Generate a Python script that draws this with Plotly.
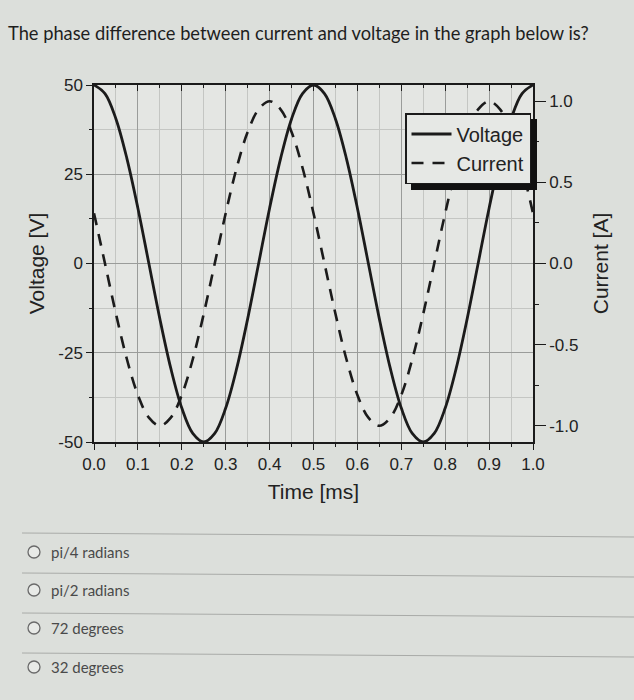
import plotly.graph_objects as go

# values (time in ms)
time_ms = [0.0, 0.025, 0.05, 0.075, 0.1, 0.125, 0.15, 0.175, 0.2, 0.225,
           0.25, 0.275, 0.3, 0.325, 0.35, 0.375, 0.4, 0.425, 0.45, 0.475,
           0.5, 0.525, 0.55, 0.575, 0.6, 0.625, 0.65, 0.675, 0.7, 0.725,
           0.75, 0.775, 0.8, 0.825, 0.85, 0.875, 0.9, 0.925, 0.95, 0.975, 1.0]
voltage_v = [50, 47.6, 40.5, 29.4, 15.5, 0, -15.5, -29.4, -40.5, -47.6,
             -50, -47.6, -40.5, -29.4, -15.5, 0, 15.5, 29.4, 40.5, 47.6,
             50, 47.6, 40.5, 29.4, 15.5, 0, -15.5, -29.4, -40.5, -47.6,
             -50, -47.6, -40.5, -29.4, -15.5, 0, 15.5, 29.4, 40.5, 47.6, 50]
current_a = [0.31, 0, -0.31, -0.59, -0.81, -0.95, -1.0, -0.95, -0.81, -0.59,
             -0.31, 0, 0.31, 0.59, 0.81, 0.95, 1.0, 0.95, 0.81, 0.59,
             0.31, 0, -0.31, -0.59, -0.81, -0.95, -1.0, -0.95, -0.81, -0.59,
             -0.31, 0, 0.31, 0.59, 0.81, 0.95, 1.0, 0.95, 0.81, 0.59, 0.31]

time_ticks = [0.0, 0.1, 0.2, 0.3, 0.4, 0.5, 0.6, 0.7, 0.8, 0.9, 1.0]
time_labels = ['0.0', '0.1', '0.2', '0.3', '0.4', '0.5', '0.6', '0.7', '0.8', '0.9', '1.0']
volt_ticks = [-50, -25, 0, 25, 50]
volt_labels = ['-50', '-25', '0', '25', '50']
amp_ticks = [-1.0, -0.5, 0.0, 0.5, 1.0]
amp_labels = ['-1.0', '-0.5', '0.0', '0.5', '1.0']

question = 'The phase difference between current and voltage in the graph below is?'
answers = ['pi/4 radians', 'pi/2 radians', '72 degrees', '32 degrees']

W, H = 634, 700
L, R, T, B = 94, 533, 85, 442   # plot area in px


def px(x):
    return (x - L) / (R - L)


def py(y):
    return (B - y) / (B - T)


ink = '#1b1b1b'
font = 'Liberation Sans, Arial, sans-serif'

fig = go.Figure()
fig.add_trace(go.Scatter(x=time_ms, y=voltage_v, name='Voltage', mode='lines',
                         line=dict(color=ink, width=2.8, shape='spline')))
fig.add_trace(go.Scatter(x=time_ms, y=current_a, name='Current', mode='lines',
                         xaxis='x2', yaxis='y2',
                         line=dict(color=ink, width=2.6, dash='12px,9px', shape='spline')))

axis_common = dict(showline=True, linecolor=ink, linewidth=1.5, tickcolor=ink,
                   tickfont=dict(family=font, size=17, color='#222'), zeroline=False)

fig.update_layout(
    width=W, height=H,
    margin=dict(l=L, r=W - R, t=T, b=H - B),
    paper_bgcolor='#dcdfdb', plot_bgcolor='#e4e6e3',
    font=dict(family=font, color='#222'),
    showlegend=True,
    legend=dict(x=px(405), y=py(113), xanchor='left', yanchor='top',
                bgcolor='#e6e8e5', bordercolor=ink, borderwidth=1.5,
                font=dict(family=font, size=20, color='#222'),
                tracegroupgap=0, itemwidth=40),
    xaxis=dict(range=[0, 1.0], tickvals=time_ticks, ticktext=time_labels,
               ticks='outside', ticklen=6, tickwidth=1.3,
               showgrid=True, gridcolor='#9a9c9a', gridwidth=1,
               minor=dict(dtick=0.05, tick0=0, ticks='outside', ticklen=3,
                          tickcolor=ink, showgrid=True, gridcolor='#c4c6c3'),
               title=dict(text='Time [ms]', font=dict(family=font, size=21, color='#222'), standoff=11),
               **axis_common),
    xaxis2=dict(range=[0, 1.0], overlaying='x', side='top', anchor='y',
                tickvals=time_ticks, showticklabels=False,
                ticks='inside', ticklen=6, tickwidth=1.3, showgrid=False,
                minor=dict(dtick=0.05, tick0=0, ticks='inside', ticklen=3, tickcolor=ink),
                **axis_common),
    yaxis=dict(range=[-50, 50], tickvals=volt_ticks, ticktext=volt_labels,
               ticks='outside', ticklen=6, tickwidth=1.3,
               showgrid=True, gridcolor='#9a9c9a',
               minor=dict(dtick=12.5, tick0=0, ticks='outside', ticklen=3,
                          tickcolor=ink, showgrid=True, gridcolor='#c4c6c3'),
               title=dict(text='Voltage [V]', font=dict(family=font, size=21, color='#222'), standoff=8),
               **axis_common),
    yaxis2=dict(range=[-1.1, 1.1], overlaying='y', side='right', anchor='x2',
                tickvals=amp_ticks, ticktext=amp_labels,
                ticks='outside', ticklen=11, tickwidth=1.3, showgrid=False,
                minor=dict(dtick=0.25, tick0=0, ticks='outside', ticklen=4, tickcolor=ink),
                title=dict(text='Current [A]', font=dict(family=font, size=21, color='#222'), standoff=16),
                **axis_common),
)

# drop shadow behind the legend box
fig.add_shape(type='rect', xref='paper', yref='paper',
              x0=px(411), x1=px(537), y0=py(190), y1=py(119),
              fillcolor='#111', line=dict(width=0), layer='above')

# question text and answer list around the chart
fig.add_annotation(text=question, xref='paper', yref='paper', x=px(6), y=py(33),
                   xanchor='left', yanchor='middle', showarrow=False,
                   font=dict(family='Lato, Open Sans, sans-serif', size=18.3, color='#1e1e1e'))

sep_y = [533, 573, 613, 653]
opt_y = [552, 590, 628, 667]
for sy, oy, txt in zip(sep_y, opt_y, answers):
    fig.add_shape(type='line', xref='paper', yref='paper',
                  x0=px(22), x1=px(634), y0=py(sy), y1=py(sy + 4),
                  line=dict(color='#a9aba8', width=1))
    fig.add_shape(type='circle', xref='paper', yref='paper',
                  x0=px(28), x1=px(40), y0=py(oy + 6), y1=py(oy - 6),
                  line=dict(color='#6a6a6a', width=1.3), fillcolor='#e8eae7')
    fig.add_annotation(text=txt, xref='paper', yref='paper', x=px(49), y=py(oy),
                       xanchor='left', yanchor='middle', showarrow=False,
                       font=dict(family='Lato, Open Sans, sans-serif', size=15, color='#4a4a4a'))

fig.write_html('out.html', config={'displayModeBar': False},
               post_script="document.body.style.margin='0';")
